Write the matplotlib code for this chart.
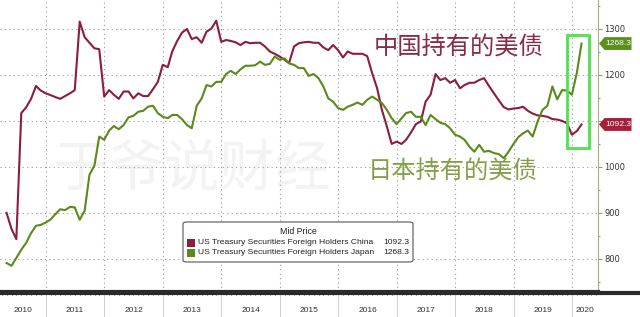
import numpy as np
import pandas as pd
import matplotlib
matplotlib.use('Agg')
from matplotlib import pyplot as plot, dates as mdates, patches, transforms
from matplotlib.ticker import MultipleLocator, FuncFormatter

# Monthly holdings (billions USD), Apr 2010 .. Feb 2020
dates = pd.date_range('2010-04-30', periods=119, freq='ME')
china = [900, 865, 843, 1117, 1130, 1148, 1176, 1166, 1160, 1156,
         1152, 1148, 1154, 1160, 1167, 1316, 1282, 1270, 1258, 1256,
         1153, 1167, 1157, 1148, 1164, 1164, 1149, 1160, 1154, 1154,
         1169, 1185, 1222, 1217, 1251, 1274, 1292, 1300, 1278, 1282,
         1270, 1294, 1301, 1318, 1272, 1276, 1274, 1271, 1265, 1272,
         1269, 1270, 1270, 1262, 1251, 1246, 1240, 1233, 1226, 1262,
         1269, 1271, 1272, 1270, 1270, 1260, 1254, 1265, 1254, 1238,
         1251, 1246, 1246, 1246, 1241, 1204, 1171, 1124, 1088, 1050,
         1055, 1050, 1059, 1075, 1093, 1099, 1142, 1157, 1202, 1189,
         1193, 1183, 1189, 1171, 1178, 1183, 1183, 1189, 1193, 1176,
         1160, 1145, 1130, 1125, 1127, 1128, 1131, 1122, 1116, 1112,
         1111, 1109, 1104, 1103, 1100, 1095, 1070, 1078, 1092.3]
japan = [791, 785, 802, 820, 835, 856, 872, 874, 879, 886,
         897, 908, 906, 913, 912, 885, 905, 983, 1003, 1066,
         1059, 1079, 1089, 1082, 1091, 1108, 1111, 1120, 1122, 1131,
         1133, 1117, 1109, 1106, 1113, 1113, 1104, 1091, 1084, 1133,
         1149, 1178, 1175, 1185, 1185, 1202, 1209, 1202, 1212, 1220,
         1220, 1221, 1229, 1222, 1224, 1240, 1233, 1236, 1225, 1222,
         1215, 1215, 1198, 1202, 1193, 1175, 1149, 1142, 1128, 1124,
         1131, 1135, 1140, 1135, 1146, 1153, 1146, 1139, 1124, 1106,
         1093, 1106, 1117, 1120, 1109, 1109, 1091, 1113, 1104, 1096,
         1093, 1084, 1070, 1066, 1059, 1044, 1033, 1048, 1033, 1035,
         1030, 1028, 1019, 1033, 1050, 1065, 1073, 1079, 1066, 1099,
         1124, 1133, 1175, 1147, 1167, 1166, 1157, 1205, 1268.3]
year_labels = list(range(2010, 2021))
series_names = ['US Treasury Securities Foreign Holders China',
                'US Treasury Securities Foreign Holders Japan']

red = '#8e1c3c'
green = '#5a8a1c'
W, H = 640, 317

plot.rcParams['font.family'] = ['DejaVu Sans']

fig = plot.figure(figsize=(W / 100, H / 100), dpi=100)
ax = fig.add_axes([0, 25 / H, 598 / W, 292 / H])

ax.plot(dates, china, color=red, lw=1.5, zorder=3)
ax.plot(dates, japan, color=green, lw=1.5, zorder=3)

ax.set_xlim(pd.Timestamp('2010-03-20'), pd.Timestamp('2020-06-11'))
ax.set_ylim(728, 1363)

# axes / ticks
ax.xaxis.set_major_locator(mdates.YearLocator())
ax.xaxis.set_minor_locator(mdates.MonthLocator())
ax.yaxis.set_major_locator(MultipleLocator(100))
ax.yaxis.set_minor_locator(MultipleLocator(50))
ax.yaxis.tick_right()
# the 1100 label sits under the China value tag
ax.yaxis.set_major_formatter(FuncFormatter(lambda v, p: '' if round(v) == 1100 else f'{v:.0f}'))
ax.tick_params(axis='x', which='major', length=18, width=0.6, color='#c8c8c8',
               labelbottom=False)
ax.tick_params(axis='x', which='minor', length=2.5, width=0.6, color='#333333')
ax.tick_params(axis='y', which='major', length=3, width=0.8, color='#8f9d6a',
               labelsize=6, labelcolor='#333333', pad=1.5)
ax.tick_params(axis='y', which='minor', length=1.5, width=0.8, color='#8f9d6a')
ax.grid(True, which='major', color='#9a9a9a', linestyle=(0, (1, 3)), lw=0.8)
for side in ['left', 'top']:
    ax.spines[side].set_visible(False)
ax.spines['right'].set_color('#a3b07f')
ax.spines['bottom'].set_color('#2a2a2a')
ax.spines['bottom'].set_linewidth(3)
# bottom rule runs across the whole width
fig.add_artist(plot.Line2D([0, 1], [24.5 / H, 24.5 / H], color='#2a2a2a', lw=3,
                           transform=fig.transFigure))

# year labels centred in visible part of each year
x0, x1 = [mdates.num2date(v).replace(tzinfo=None) for v in ax.get_xlim()]
trans = transforms.blended_transform_factory(ax.transData, ax.transAxes)
for yr in year_labels:
    s = max(pd.Timestamp(yr, 1, 1), pd.Timestamp(x0))
    e = min(pd.Timestamp(yr + 1, 1, 1), pd.Timestamp(x1))
    ax.text(s + (e - s) / 2, -0.064, str(yr), transform=trans, ha='center',
            va='center', fontsize=6, color='#333333', family='Liberation Sans')

# last value tags on the right axis
ytrans = ax.get_yaxis_transform()
for v, c in [(china[-1], '#a61f3a'), (japan[-1], '#5e8f1e')]:
    pts = [(1.0017, v), (1.011, v + 14), (1.056, v + 14), (1.056, v - 14), (1.011, v - 14)]
    ax.add_patch(patches.Polygon(pts, closed=True, fc=c, ec='none',
                                 transform=ytrans, clip_on=False, zorder=5))
    ax.text(1.034, v, f'{v:.1f}', transform=ytrans, color='white', fontsize=6.1,
            ha='center', va='center', zorder=6, clip_on=False,
            family='Liberation Sans')

# highlight box round latest months
ax.add_patch(patches.Rectangle((dates[-4], china[-3] - 29),
                               dates[-1] + pd.Timedelta(days=47) - dates[-4],
                               japan[-1] + 19 - (china[-3] - 29),
                               fill=False, ec='#4ee24e', lw=2, zorder=4))

# watermark + annotations
cjk = ['Noto Sans CJK SC', 'DejaVu Sans']
ax.text(192 / W, 1 - 170 / H, '于爷说财经', transform=fig.transFigure, fontsize=40,
        color='#f3f3f3', ha='center', va='center', family=cjk, zorder=1)
fig.text(459 / W, 1 - 48 / H, '中国持有的美债', fontsize=17.5, color='#8a2b45',
         ha='center', va='center', family=cjk)
fig.text(453 / W, 1 - 172 / H, '日本持有的美债', fontsize=17.5, color='#84a046',
         ha='center', va='center', family=cjk)

# legend box drawn in pixels
def px(x, y):
    return x / W, 1 - y / H

lx, ly = px(183, 262)
fig.add_artist(patches.FancyBboxPatch((lx, ly), 230 / W, 40 / H,
                                      boxstyle='round,pad=0,rounding_size=0.006',
                                      transform=fig.transFigure, fc='white',
                                      ec='#555555', lw=0.8, zorder=6))
fig.text(*px(298, 232), 'Mid Price', fontsize=6.3, ha='center', va='center',
         color='#222222', family='Liberation Sans', zorder=7)
for i, (name, vals, c) in enumerate(zip(series_names, [china, japan], [red, green])):
    yy = 243 + 10 * i
    sx, sy = px(187, yy + 4)
    fig.add_artist(patches.Rectangle((sx, sy), 8 / W, 8 / H, fc=c, ec='none',
                                     transform=fig.transFigure, zorder=7))
    fig.text(*px(198, yy), name, fontsize=6.1, ha='left', va='center',
             color='#222222', family='Liberation Sans', zorder=7)
    fig.text(*px(409, yy), f'{vals[-1]:.1f}', fontsize=6.1, ha='right', va='center',
             color='#222222', family='Liberation Sans', zorder=7)

plot.savefig('out.png', dpi=100)
